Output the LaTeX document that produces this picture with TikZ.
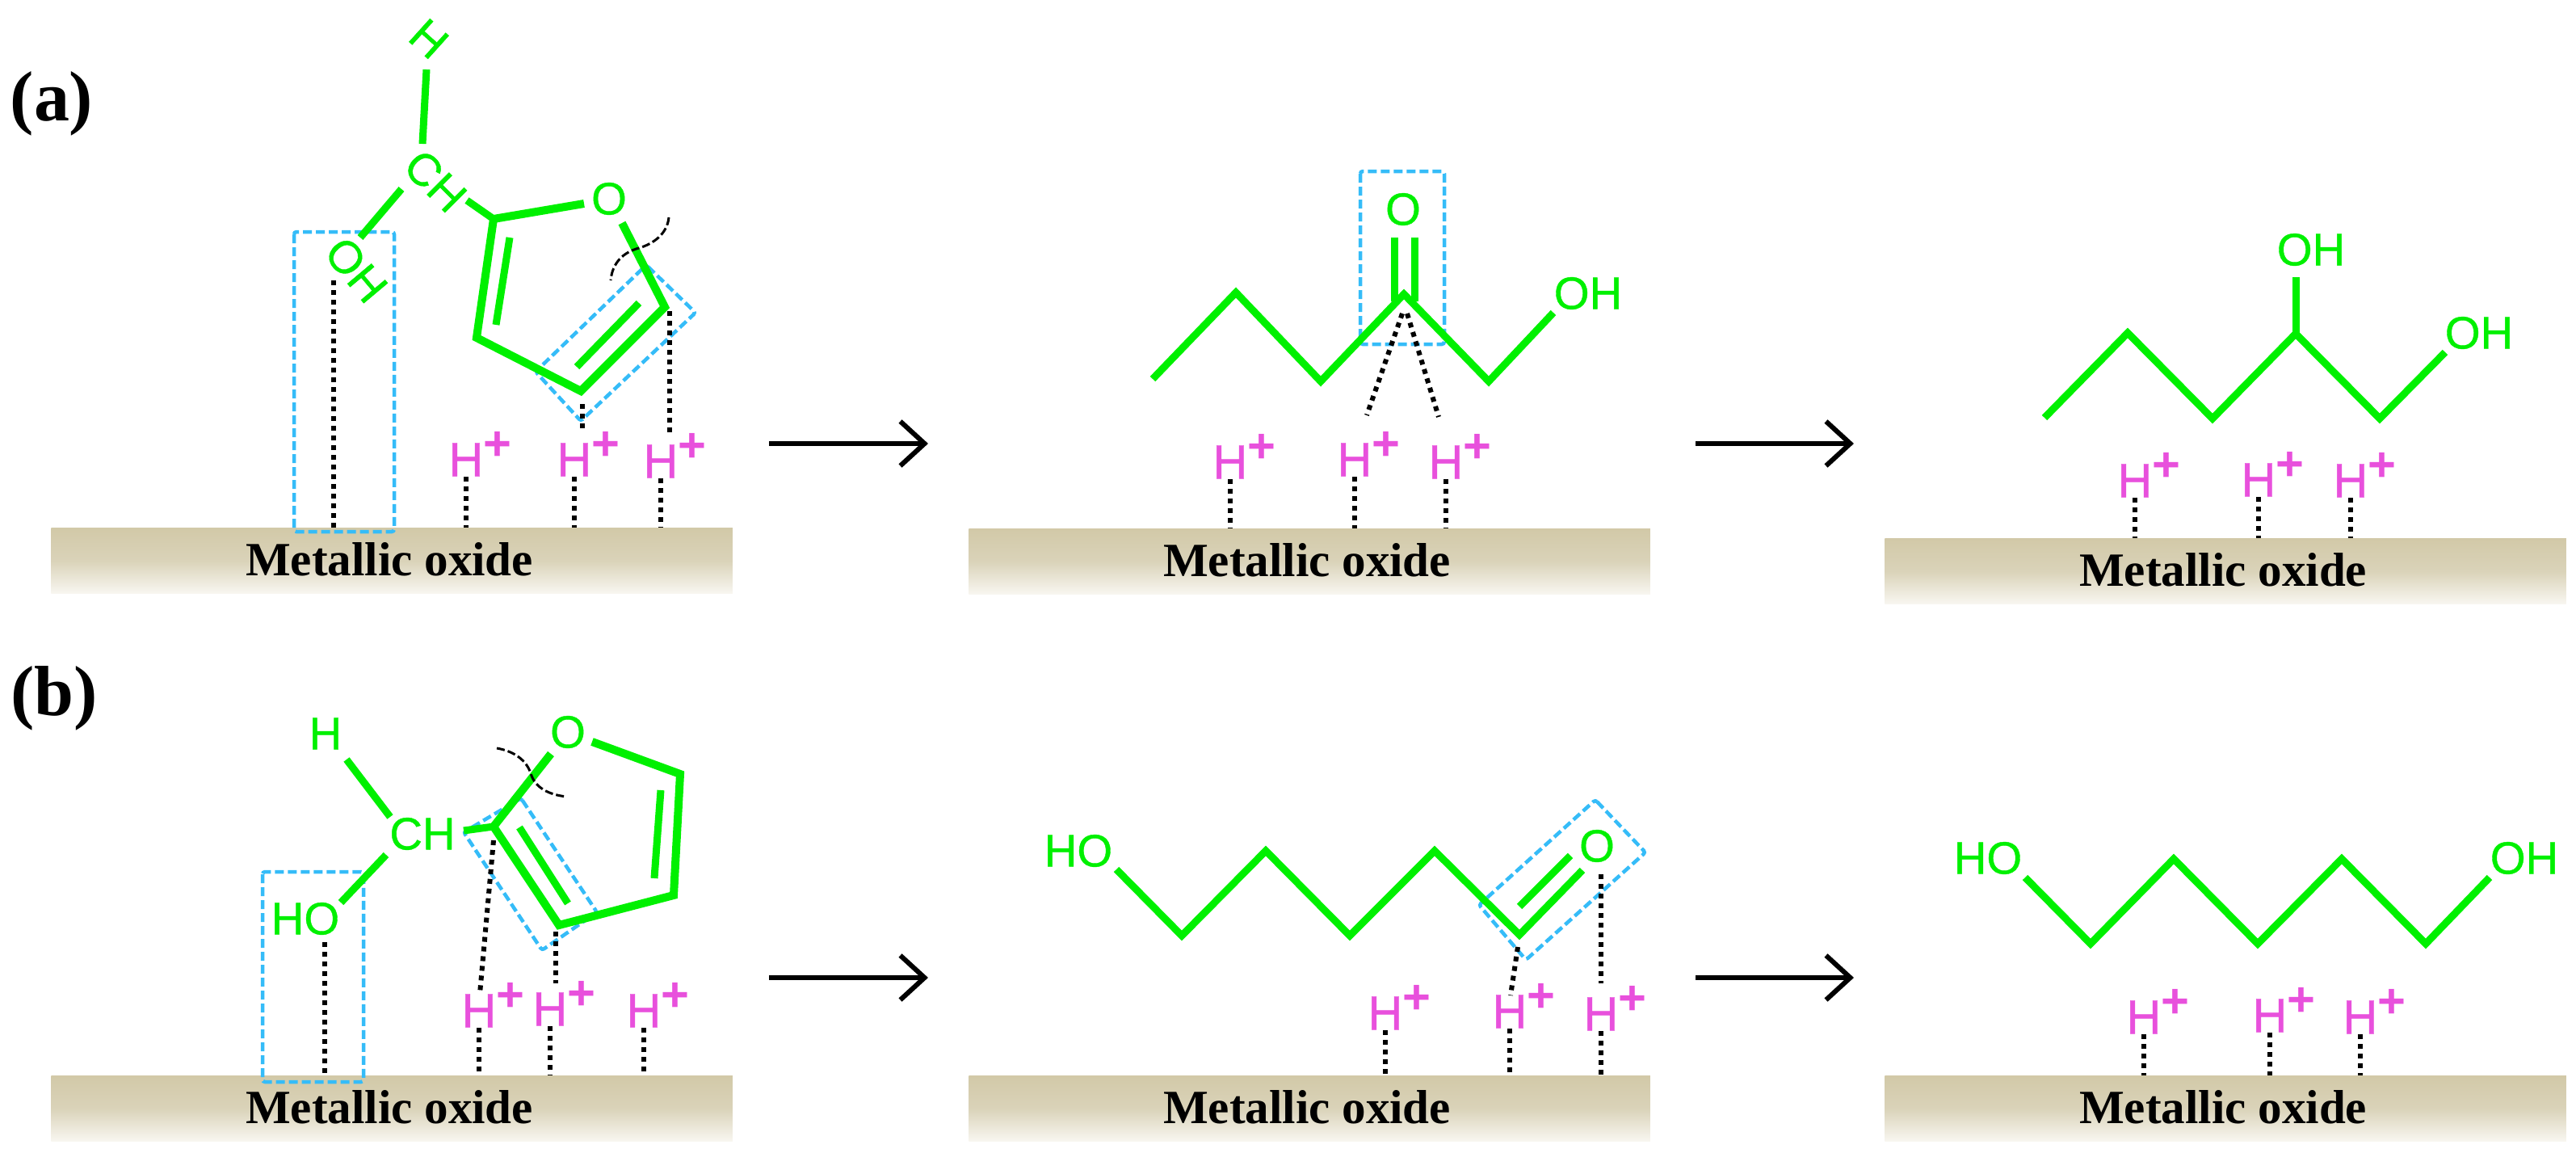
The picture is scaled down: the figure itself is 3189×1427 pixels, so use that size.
\documentclass[tikz,border=0pt]{standalone}
\usepackage{fontspec}
\setmainfont{Liberation Serif}
\setsansfont{Liberation Sans}
\newfontfamily\atomfont[FakeBold=.7]{Liberation Sans}
\usetikzlibrary{arrows.meta, positioning}

\definecolor{bondgreen}{HTML}{00F000}
\definecolor{protonpink}{HTML}{E850DC}
\definecolor{boxblue}{HTML}{35BCF8}
\definecolor{slabtop}{HTML}{D2C9A8}
\definecolor{slabmid}{HTML}{DAD3B9}
\definecolor{slabend}{HTML}{F8F6F0}

\newcommand{\hplus}{H\rlap{\raisebox{.33em}{\sffamily\bfseries +}}}

\begin{document}
\begin{tikzpicture}[
  x=.01cm, y=-.01cm, % one unit is one pixel of the original
  slab/.style={minimum width=8.43cm, minimum height=.8cm, inner sep=0pt,
    top color=slabtop, bottom color=slabend, middle color=slabmid},
  oxide/.style={inner sep=0pt, font=\rmfamily\bfseries\fontsize{16.8}{18}\selectfont},
  panel/.style={inner sep=0pt, font=\rmfamily\bfseries\fontsize{25}{28}\selectfont},
  atom/.style={inner sep=0pt, text=bondgreen, font=\atomfont\fontsize{16}{16}\selectfont},
  proton/.style={inner sep=0pt, text=protonpink, font=\atomfont\fontsize{17}{17}\selectfont},
  bond/.style={draw=bondgreen, line width=.09cm, line join=miter},
  ringbond/.style={draw=bondgreen, line width=.1cm, line join=miter},
  hbond/.style={draw=black, line width=.06cm, dash pattern=on .06cm off .06cm},
  selbox/.style={draw=boxblue, line width=.045cm, dash pattern=on .11cm off .05cm, rounded corners=.03cm},
  cut/.style={draw=black, line width=.03cm, dash pattern=on .1cm off .04cm},
  react/.style={-{Straight Barb[length=.3cm,width=.55cm,line width=.06cm]}, line width=.06cm}]

  \useasboundingbox (0,0) rectangle (3189,1427);

  \node[panel] (la) at (64,128) {(a)};
  \node[panel] (lb) at (67,864) {(b)};

  \node[slab] (s1) at (485,694) {};
  \node[slab] (s2) at (1621,695) {};
  \node[slab] (s3) at (2755,707) {};
  \node[slab] (s4) at (485,1372) {};
  \node[slab] (s5) at (1621,1372) {};
  \node[slab] (s6) at (2755,1372) {};
  \node[oxide] (t1) at (482,692) {Metallic oxide};
  \node[oxide] (t2) at (1618,693) {Metallic oxide};
  \node[oxide] (t3) at (2752,705) {Metallic oxide};
  \node[oxide] (t4) at (482,1370) {Metallic oxide};
  \node[oxide] (t5) at (1618,1370) {Metallic oxide};
  \node[oxide] (t6) at (2752,1370) {Metallic oxide};

  % reaction arrows
  \coordinate (r1) at (952,549);
  \coordinate (r2) at (1149,549);
  \coordinate (r3) at (2099,549);
  \coordinate (r4) at (2295,549);
  \coordinate (r5) at (952,1210);
  \coordinate (r6) at (1149,1210);
  \coordinate (r7) at (2099,1210);
  \coordinate (r8) at (2295,1210);
  \draw[react] (r1) -- (r2);
  \draw[react] (r3) -- (r4);
  \draw[react] (r5) -- (r6);
  \draw[react] (r7) -- (r8);

  % first molecule of (a)
  \node[atom, rotate=-42] (aH) at (531,48) {H};
  \node[atom, rotate=-45] (aCH) at (539,224) {CH};
  \node[atom, rotate=-50] (aOH) at (441,334) {OH};
  \node[atom] (aO) at (754,246) {O};
  \node[proton] (p1) at (577,562) {\hplus};
  \node[proton] (p2) at (711,562) {\hplus};
  \node[proton] (p3) at (818,564) {\hplus};
  \coordinate (a1) at (611,271);
  \coordinate (a2) at (590,418);
  \coordinate (a3) at (719,484);
  \coordinate (a4) at (823,380);
  \coordinate (ab1) at (528,86);
  \coordinate (ab2) at (523,178);
  \coordinate (ab3) at (497,234);
  \coordinate (ab4) at (446,294);
  \coordinate (ab5) at (578,248);
  \coordinate (ab6) at (723,252);
  \coordinate (ab7) at (770,276);
  \coordinate (ai1) at (631,294);
  \coordinate (ai2) at (614,402);
  \coordinate (ai3) at (791,375);
  \coordinate (ai4) at (714,454);
  \coordinate (ad1) at (800,328);
  \coordinate (ad2) at (861,387);
  \coordinate (ad3) at (719,521);
  \coordinate (ad4) at (663,460);
  \coordinate (ah1) at (413,347);
  \coordinate (ah2) at (721,500);
  \coordinate (ah3) at (721,536);
  \coordinate (ah4) at (829,385);
  \coordinate (ah5) at (829,536);
  \draw[selbox] (364,287) rectangle (488,658);
  \draw[selbox] (ad1) -- (ad2) -- (ad3) -- (ad4) -- cycle;
  \draw[bond] (ab1) -- (ab2);
  \draw[bond] (ab3) -- (ab4);
  \draw[bond] (ab5) -- (a1);
  \draw[ringbond] (ab6) -- (a1) -- (a2) -- (a3) -- (a4) -- (ab7);
  \draw[bond] (ai1) -- (ai2);
  \draw[bond] (ai3) -- (ai4);
  \draw[cut] (828,269) .. controls (826,290) and (808,302) .. (791,307) .. controls (772,312) and (758,325) .. (756,347);
  \draw[hbond] (ah1) -- (ah1 |- s1.north);
  \draw[hbond] (ah2) -- (ah3);
  \draw[hbond] (ah4) -- (ah5);
  \draw[hbond] (p1.south) -- (p1.south |- s1.north);
  \draw[hbond] (p2.south) -- (p2.south |- s1.north);
  \draw[hbond] (p3.south) -- (p3.south |- s1.north);

  % second molecule of (a)
  \node[atom] (cO) at (1737,259) {O};
  \node[atom] (cOH) at (1966,363) {OH};
  \node[proton] (p4) at (1523,565) {\hplus};
  \node[proton] (p5) at (1677,562) {\hplus};
  \node[proton] (p6) at (1790,565) {\hplus};
  \coordinate (c1) at (1427,469);
  \coordinate (c2) at (1530,362);
  \coordinate (c3) at (1635,472);
  \coordinate (c4) at (1738,364);
  \coordinate (c5) at (1843,472);
  \coordinate (c6) at (1923,387);
  \coordinate (cd1) at (1726,294);
  \coordinate (cd2) at (1726,373);
  \coordinate (cd3) at (1751,294);
  \coordinate (cd4) at (1751,373);
  \coordinate (ch1) at (1736,388);
  \coordinate (ch2) at (1692,514);
  \coordinate (ch3) at (1742,388);
  \coordinate (ch4) at (1781,516);
  \draw[selbox] (1684,212) rectangle (1788,426);
  \draw[bond] (c1) -- (c2) -- (c3) -- (c4) -- (c5) -- (c6);
  \draw[bond] (cd1) -- (cd2);
  \draw[bond] (cd3) -- (cd4);
  \draw[hbond] (ch1) -- (ch2);
  \draw[hbond] (ch3) -- (ch4);
  \draw[hbond] (p4.south) -- (p4.south |- s2.north);
  \draw[hbond] (p5.south) -- (p5.south |- s2.north);
  \draw[hbond] (p6.south) -- (p6.south |- s2.north);

  % third molecule of (a)
  \node[atom] (eOHa) at (2861,309) {OH};
  \node[atom] (eOHb) at (3069,412) {OH};
  \node[proton] (p7) at (2643,588) {\hplus};
  \node[proton] (p8) at (2796,587) {\hplus};
  \node[proton] (p9) at (2910,588) {\hplus};
  \coordinate (e1) at (2531,517);
  \coordinate (e2) at (2634,412);
  \coordinate (e3) at (2739,518);
  \coordinate (e4) at (2842,413);
  \coordinate (e5) at (2946,518);
  \coordinate (e6) at (3027,436);
  \coordinate (e7) at (2842,343);
  \draw[bond] (e1) -- (e2) -- (e3) -- (e4) -- (e5) -- (e6);
  \draw[bond] (e7) -- (e4);
  \draw[hbond] (p7.south) -- (p7.south |- s3.north);
  \draw[hbond] (p8.south) -- (p8.south |- s3.north);
  \draw[hbond] (p9.south) -- (p9.south |- s3.north);

  % first molecule of (b)
  \node[atom] (bH) at (403,908) {H};
  \node[atom] (bCH) at (523,1032) {CH};
  \node[atom] (bHO) at (378,1137) {HO};
  \node[atom] (bO) at (703,906) {O};
  \node[proton] (q1) at (593,1244) {\hplus};
  \node[proton] (q2) at (681,1242) {\hplus};
  \node[proton] (q3) at (797,1244) {\hplus};
  \coordinate (b1) at (611,1023);
  \coordinate (b2) at (842,958);
  \coordinate (b3) at (834,1108);
  \coordinate (b4) at (692,1145);
  \coordinate (bb1) at (429,940);
  \coordinate (bb2) at (483,1011);
  \coordinate (bb3) at (478,1058);
  \coordinate (bb4) at (422,1117);
  \coordinate (bb5) at (574,1028);
  \coordinate (bb6) at (682,933);
  \coordinate (bb7) at (733,918);
  \coordinate (bi1) at (818,978);
  \coordinate (bi2) at (810,1087);
  \coordinate (bi3) at (643,1024);
  \coordinate (bi4) at (703,1118);
  \coordinate (bd1) at (645,988);
  \coordinate (bd2) at (739,1129);
  \coordinate (bd3) at (671,1176);
  \coordinate (bd4) at (574,1030);
  \coordinate (bh1) at (402,1166);
  \coordinate (bh2) at (611,1040);
  \coordinate (bh3) at (594,1230);
  \coordinate (bh4) at (688,1153);
  \coordinate (bh5) at (688,1217);
  \draw[selbox] (325,1079) rectangle (450,1339);
  \draw[selbox] (bd1) -- (bd2) -- (bd3) -- (bd4) -- cycle;
  \draw[bond] (bb1) -- (bb2);
  \draw[bond] (bb3) -- (bb4);
  \draw[bond] (bb5) -- (b1);
  \draw[ringbond] (bb6) -- (b1) -- (b4) -- (b3) -- (b2) -- (bb7);
  \draw[bond] (bi1) -- (bi2);
  \draw[bond] (bi3) -- (bi4);
  \draw[cut] (615,926) .. controls (638,930) and (652,942) .. (657,957) .. controls (662,975) and (680,984) .. (702,986);
  \draw[hbond] (bh1) -- (bh1 |- s4.north);
  \draw[hbond] (bh2) -- (bh3);
  \draw[hbond] (bh4) -- (bh5);
  \draw[hbond] (q1.south) -- (q1.south |- s4.north);
  \draw[hbond] (q2.south) -- (q2.south |- s4.north);
  \draw[hbond] (q3.south) -- (q3.south |- s4.north);

  % second molecule of (b)
  \node[atom] (dHO) at (1335,1053) {HO};
  \node[atom] (dO) at (1977,1047) {O};
  \node[proton] (q4) at (1715,1247) {\hplus};
  \node[proton] (q5) at (1869,1245) {\hplus};
  \node[proton] (q6) at (1982,1248) {\hplus};
  \coordinate (d1) at (1382,1076);
  \coordinate (d2) at (1463,1158);
  \coordinate (d3) at (1567,1053);
  \coordinate (d4) at (1671,1158);
  \coordinate (d5) at (1776,1053);
  \coordinate (d6) at (1881,1157);
  \coordinate (d7) at (1959,1077);
  \coordinate (di1) at (1944,1059);
  \coordinate (di2) at (1881,1122);
  \coordinate (dd1) at (1975,990);
  \coordinate (dd2) at (2037,1055);
  \coordinate (dd3) at (1889,1188);
  \coordinate (dd4) at (1831,1120);
  \coordinate (dh1) at (1879,1172);
  \coordinate (dh2) at (1870,1232);
  \coordinate (dh3) at (1982,1082);
  \coordinate (dh4) at (1982,1217);
  \draw[selbox] (dd1) -- (dd2) -- (dd3) -- (dd4) -- cycle;
  \draw[bond] (d1) -- (d2) -- (d3) -- (d4) -- (d5) -- (d6) -- (d7);
  \draw[bond] (di1) -- (di2);
  \draw[hbond] (dh1) -- (dh2);
  \draw[hbond] (dh3) -- (dh4);
  \draw[hbond] (q4.south) -- (q4.south |- s5.north);
  \draw[hbond] (q5.south) -- (q5.south |- s5.north);
  \draw[hbond] (q6.south) -- (q6.south |- s5.north);

  % third molecule of (b)
  \node[atom] (fHO) at (2461,1062) {HO};
  \node[atom] (fOH) at (3125,1062) {OH};
  \node[proton] (q7) at (2654,1252) {\hplus};
  \node[proton] (q8) at (2810,1250) {\hplus};
  \node[proton] (q9) at (2922,1252) {\hplus};
  \coordinate (f1) at (2507,1086);
  \coordinate (f2) at (2588,1168);
  \coordinate (f3) at (2691,1063);
  \coordinate (f4) at (2795,1168);
  \coordinate (f5) at (2899,1063);
  \coordinate (f6) at (3003,1168);
  \coordinate (f7) at (3082,1086);
  \draw[bond] (f1) -- (f2) -- (f3) -- (f4) -- (f5) -- (f6) -- (f7);
  \draw[hbond] (q7.south) -- (q7.south |- s6.north);
  \draw[hbond] (q8.south) -- (q8.south |- s6.north);
  \draw[hbond] (q9.south) -- (q9.south |- s6.north);
\end{tikzpicture}
\end{document}
